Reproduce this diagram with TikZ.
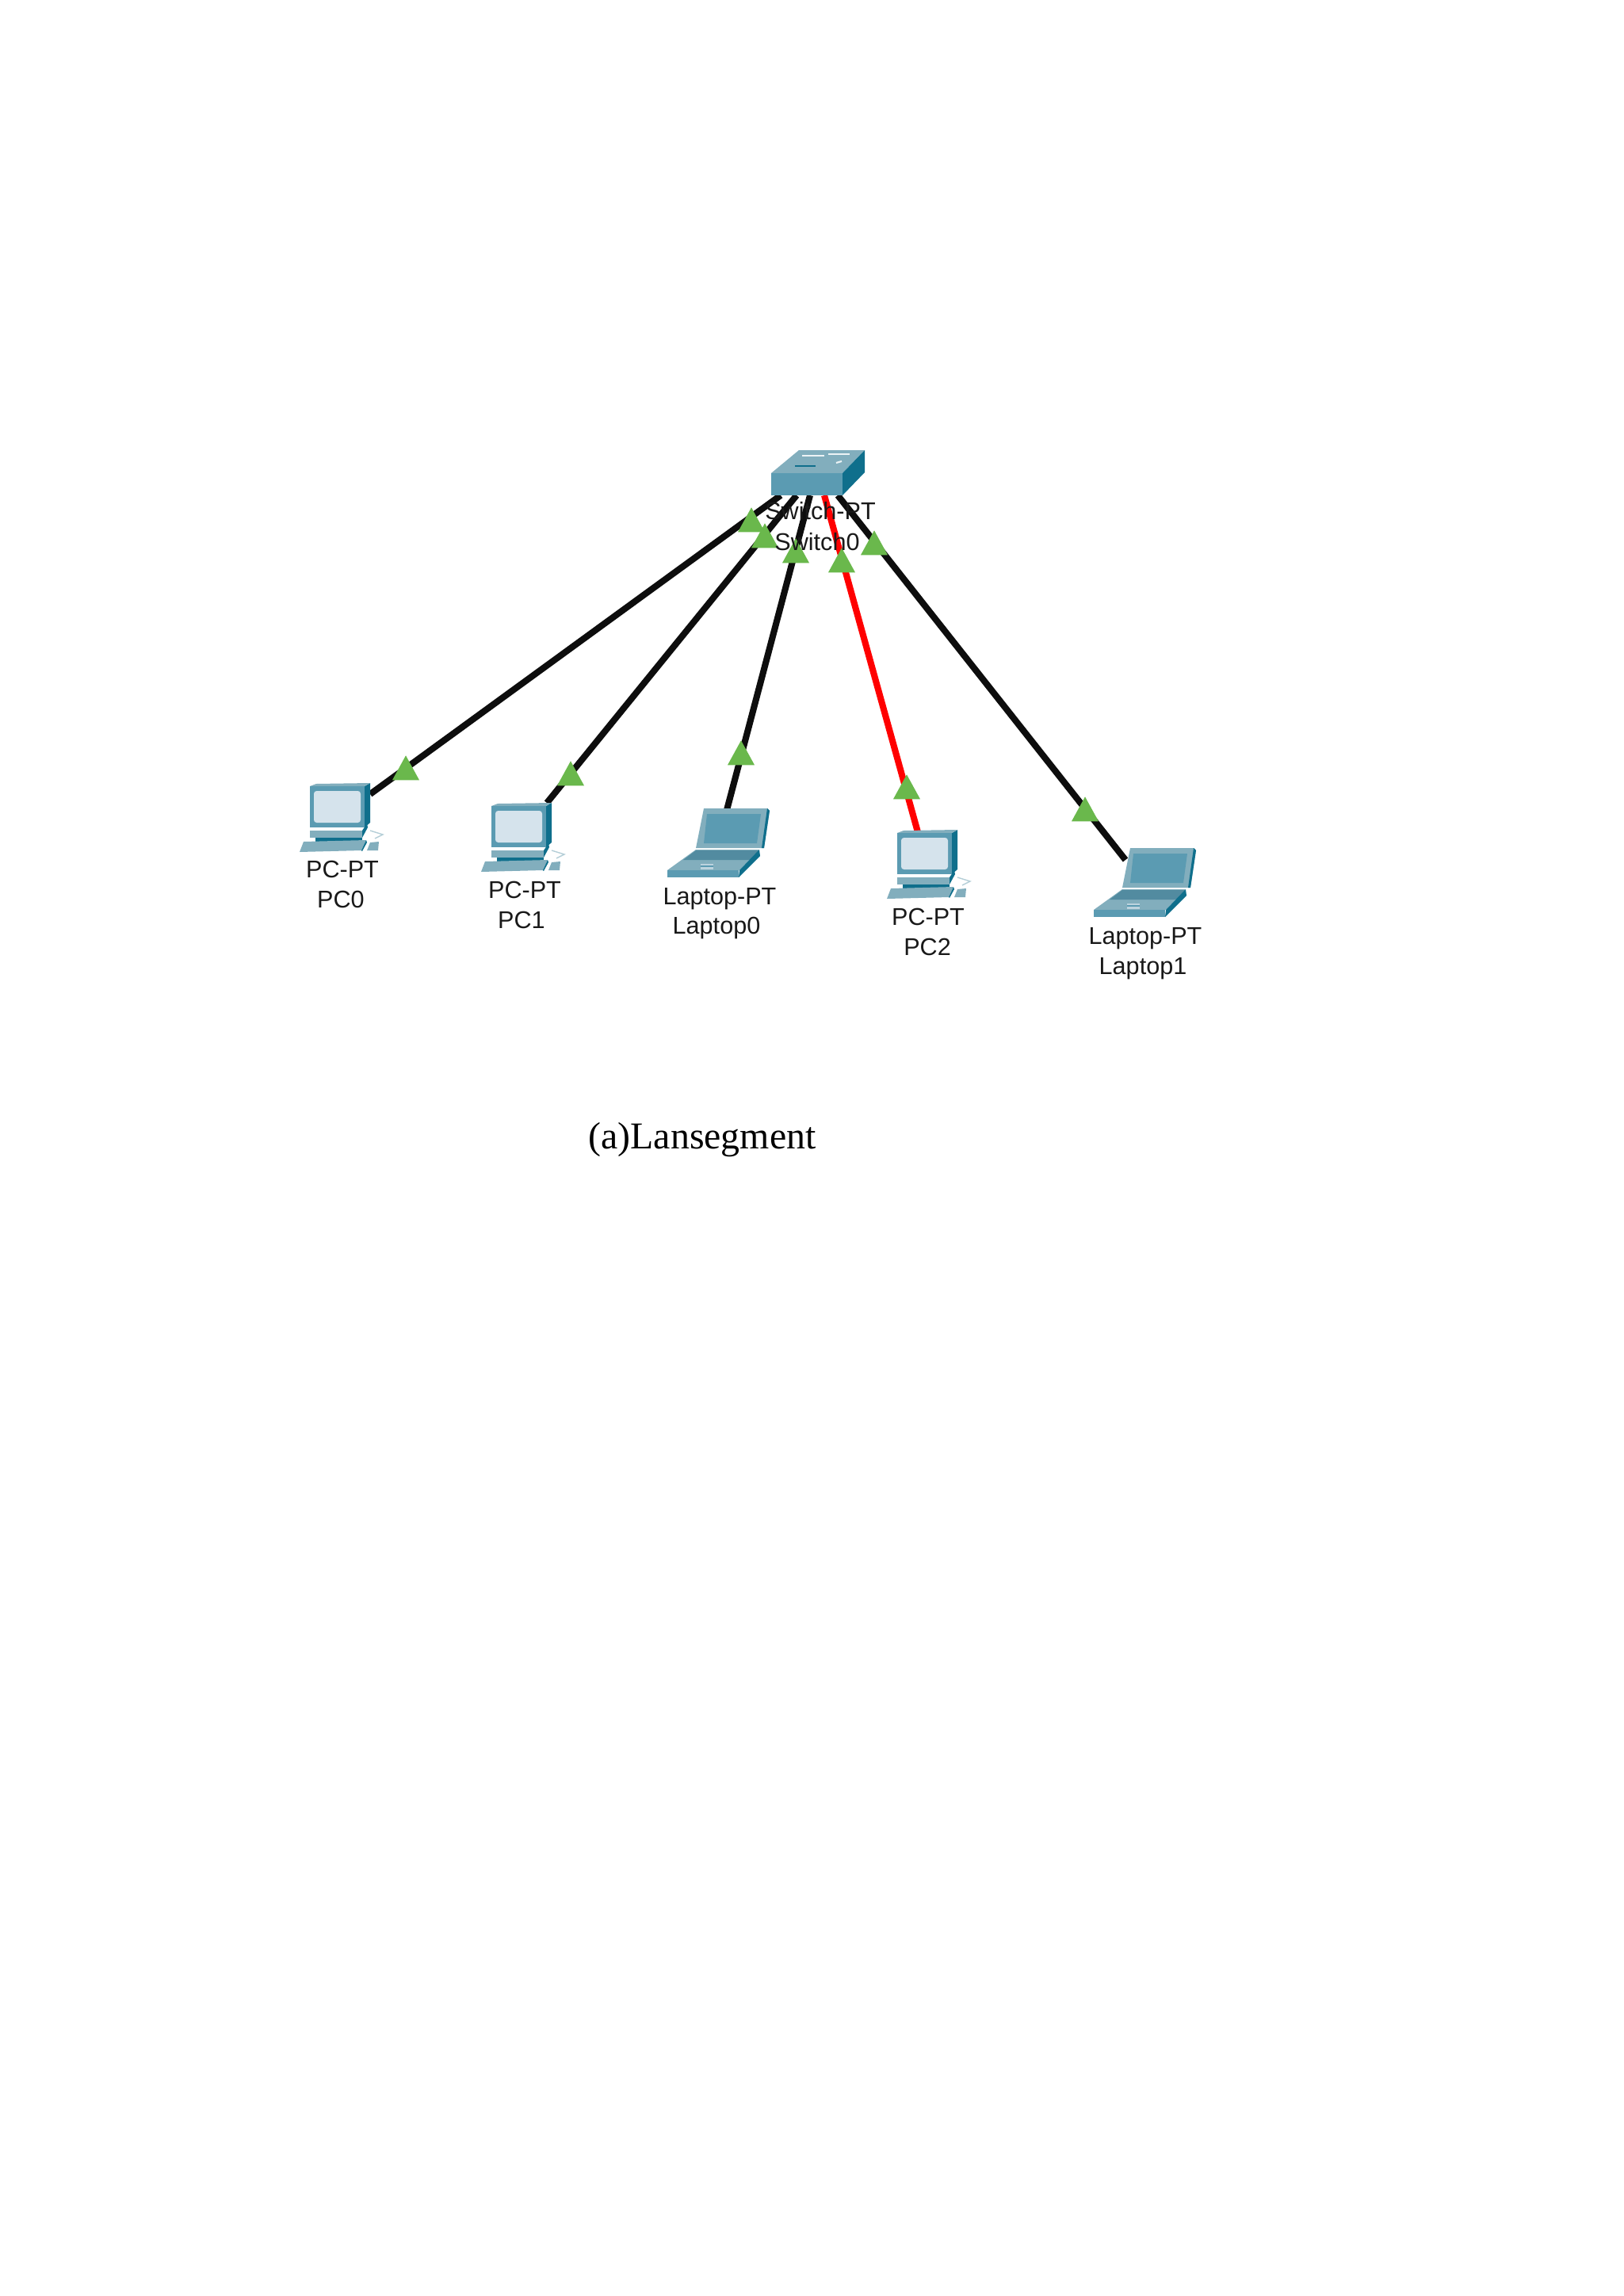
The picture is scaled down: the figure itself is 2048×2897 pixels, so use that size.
\documentclass[tikz,border=0pt]{standalone}
\usepackage{fontspec}
\setmainfont{Liberation Sans}
\newfontfamily\capfont{Liberation Serif}
\usetikzlibrary{shapes.geometric}
\definecolor{devtop}{HTML}{82AEBD}
\definecolor{devfront}{HTML}{5B9BB2}
\definecolor{devside}{HTML}{0F6F8C}
\definecolor{devscreen}{HTML}{D5E3EC}
\definecolor{linkgreen}{HTML}{6AB84C}
\tikzset{
  link/.style={line width=2.3pt,black!95},
  redlink/.style={line width=2.3pt,red},
  linkmark/.style={isosceles triangle,isosceles triangle stretches,shape border rotate=90,
    fill=linkgreen,inner sep=0pt,minimum width=3.4mm,minimum height=3.1mm,anchor=lower side},
  devlabel/.style={font=\fontsize{8.7}{10}\selectfont,text=black!90,anchor=base,inner sep=0pt},
  pc/.pic={
    % Monitor
    \fill[devside] (69,0) -- (76,-4) -- (76,46) -- (69,52) -- cycle;
    \fill[devtop] (0,0) -- (8,-3) -- (76,-4) -- (69,0) -- cycle;
    \fill[devfront] (0,0) rectangle (69,52);
    \fill[devscreen,rounded corners=1pt] (5,6) rectangle (64,46);
    % Sockel
    \fill[devside] (7,65) rectangle (66,70);
    \fill[devtop] (0,56) rectangle (66,65);
    \fill[devside] (66,56) -- (72,47) -- (73,52) -- (66,65) -- cycle;
    % Tastatur und Maus
    \fill[devtop] (-13,83) -- (-8,70) -- (71,68) -- (65,81) -- cycle;
    \fill[devside] (65,81) -- (71,68) -- (72,71) -- (66,82) -- cycle;
    \fill[devtop] (72,81) -- (76,71) -- (87,70) -- (86,81) -- cycle;
    \draw[devtop!60,line width=.4pt] (82,66) -- (92,61) -- (76,56);
  },
  laptop/.pic={
    % Deckel
    \fill[devtop] (0,0) -- (80,0) -- (83,3) -- (76,50) -- (-10,50) -- cycle;
    \fill[devside] (80,0) -- (83,3) -- (76,50) -- (73,50) -- cycle;
    \fill[devfront] (4,7) -- (72,7) -- (67,44) -- (0,44) -- cycle;
    % Unterteil
    \fill[devtop] (-10,52) -- (70,52) -- (45,78) -- (-46,78) -- cycle;
    \fill[devfront!90!black] (-10,53) -- (70,53) -- (62,65) -- (-26,65) -- cycle;
    \fill[devfront] (-46,78) rectangle (44,87);
    \fill[devside] (44,87) -- (71,60) -- (70,52) -- (45,78) -- cycle;
    \fill[devscreen!70!devtop] (-4,70) rectangle (12,77);
    \draw[devfront,line width=.4pt] (-4,73) -- (12,73);
  },
}
\begin{document}
\begin{tikzpicture}[x=0.01cm,y=-0.01cm]
  \useasboundingbox (0,0) rectangle (2048,2897);

  % Anschlusspunkte
  \coordinate (sw0) at (985,625);
  \coordinate (sw1) at (1005,625);
  \coordinate (sw2) at (1022,625);
  \coordinate (sw3) at (1040,625);
  \coordinate (sw4) at (1057,625);
  \coordinate (pc0) at (467,1002);
  \coordinate (pc1) at (690,1013);
  \coordinate (lap0) at (917,1022);
  \coordinate (pc2) at (1158,1050);
  \coordinate (lap1) at (1420,1085);

  % Verbindungen
  \draw[link] (sw0) -- (pc0);
  \draw[link] (sw1) -- (pc1);
  \draw[link] (sw2) -- (lap0);
  \draw[redlink] (sw3) -- (pc2);
  \draw[link] (sw4) -- (lap1);

  % Switch
  \fill[devtop] (973,597) -- (1008,568) -- (1091,568) -- (1063,597) -- cycle;
  \fill[devfront] (973,597) rectangle (1063,625);
  \fill[devside] (1063,597) -- (1091,568) -- (1091,596) -- (1063,625) -- cycle;
  \draw[white!85!devtop,line width=.6pt] (1012,575) -- (1040,575) (1045,573) -- (1072,573);
  \draw[devside,line width=.6pt] (1003,588) -- (1029,588);
  \draw[white!85!devtop,line width=.6pt] (1055,584) -- (1062,582);

  % Geraete
  \pic at (391,992) {pc};
  \pic at (620,1017) {pc};
  \pic at (1132,1051) {pc};
  \pic at (888,1020) {laptop};
  \pic at (1426,1070) {laptop};

  % Dreiecke
  \node[linkmark] (m0) at (948,672) {};
  \node[linkmark] (m1) at (965,692) {};
  \node[linkmark] (m2) at (1004,711) {};
  \node[linkmark] (m3) at (1062,723) {};
  \node[linkmark] (m4) at (1103,701) {};
  \node[linkmark] (m5) at (512,985) {};
  \node[linkmark] (m6) at (720,992) {};
  \node[linkmark] (m7) at (935,966) {};
  \node[linkmark] (m8) at (1144,1009) {};
  \node[linkmark] (m9) at (1369,1037) {};

  % Beschriftungen
  \node[devlabel] (swtype) at (1035,655) {Switch-PT};
  \node[devlabel] (swname) at (1031,694) {Switch0};
  \node[devlabel] (pc0type) at (432,1107) {PC-PT};
  \node[devlabel] (pc0name) at (430,1145) {PC0};
  \node[devlabel] (pc1type) at (662,1133) {PC-PT};
  \node[devlabel] (pc1name) at (658,1171) {PC1};
  \node[devlabel] (lap0type) at (908,1141) {Laptop-PT};
  \node[devlabel] (lap0name) at (904,1178) {Laptop0};
  \node[devlabel] (pc2type) at (1171,1167) {PC-PT};
  \node[devlabel] (pc2name) at (1170,1205) {PC2};
  \node[devlabel] (lap1type) at (1445,1191) {Laptop-PT};
  \node[devlabel] (lap1name) at (1442,1229) {Laptop1};

  \node[anchor=base,inner sep=0pt,font=\capfont\fontsize{13.6}{16}\selectfont] (caption) at (886,1449) {(a)Lansegment};
\end{tikzpicture}
\end{document}
